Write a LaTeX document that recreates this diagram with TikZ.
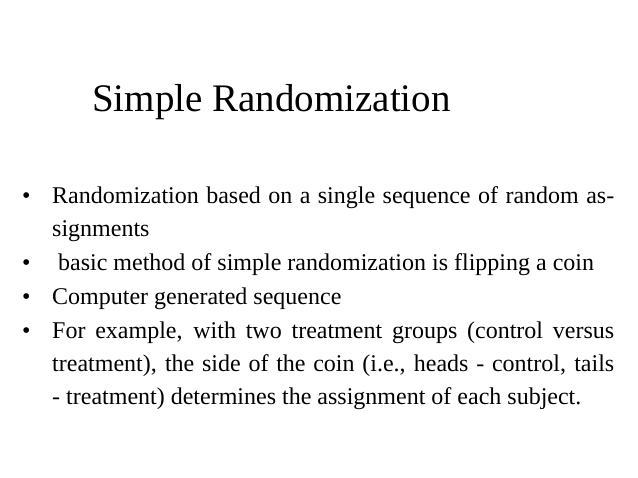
\documentclass[tikz,border=0pt]{standalone}
\usepackage{fontspec}
\setmainfont{Liberation Serif}
\begin{document}
\begin{tikzpicture}[x=1pt,y=1pt,
  body/.style={anchor=base west,inner sep=0pt,text width=562pt,align=justify,font=\fontsize{24}{33}\selectfont},
  bul/.style={anchor=base west,inner sep=0pt,font=\fontsize{24}{33}\selectfont}]
\useasboundingbox[fill=white] (0,0) rectangle (638,-478);
\node[anchor=base west,inner sep=0pt,font=\fontsize{39}{44}\selectfont] (title) at (92,-112) {Simple Randomization};
\node[bul] (b1) at (22,-204) {•};
\node[body] (t1) at (52,-204) {Randomization based on a single sequence of random assignments};
\node[bul] (b2) at (22,-271) {•};
\node[body] (t2) at (52,-271) {\ basic method of simple randomization is flipping a coin};
\node[bul] (b3) at (22,-305) {•};
\node[body] (t3) at (52,-305) {Computer generated sequence};
\node[bul] (b4) at (22,-339) {•};
\node[body] (t4) at (52,-339) {For example, with two treatment groups (control versus treatment), the side of the coin (i.e., heads - control, tails - treatment) determines the assignment of each subject.};
\end{tikzpicture}
\end{document}
